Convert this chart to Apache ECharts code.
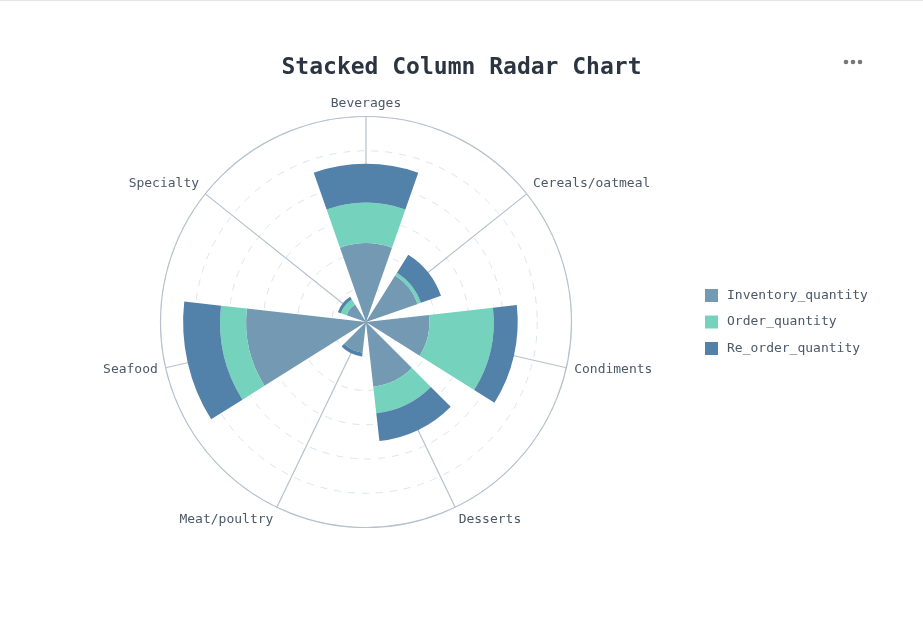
<!DOCTYPE html>
<html>
<head>
<meta charset="utf-8">
<script src="https://cdn.jsdelivr.net/npm/echarts@6/dist/echarts.min.js"></script>
<style>
html,body{margin:0;padding:0;background:#fff;}
#main{width:923px;height:623px;border-top:1px solid #e6e6e6;box-sizing:border-box;}
</style>
</head>
<body>
<div id="main"></div>
<script>
const categories = ['Beverages', 'Cereals/oatmeal', 'Condiments', 'Desserts', 'Meat/poultry', 'Seafood', 'Specialty'];
const inventoryQuantity = [23, 16, 18.5, 19, 9, 35, 6];
const orderQuantity = [11.8, 1, 18.8, 7.8, 0, 7.6, 1.8];
const reorderQuantity = [11.4, 6.2, 7, 8.2, 1.1, 10.8, 0.9];
const seriesNames = ['Inventory_quantity', 'Order_quantity', 'Re_order_quantity'];
const colors = ['#7399b3', '#74d2bd', '#5281a9'];

const chart = echarts.init(document.getElementById('main'));
const font = 'DejaVu Sans Mono, Liberation Mono, monospace';
const dataSets = [inventoryQuantity, orderQuantity, reorderQuantity];

chart.setOption({
  color: colors,
  title: {
    text: 'Stacked Column Radar Chart',
    left: 'center',
    top: 51,
    textStyle: { fontFamily: font, fontSize: 23, fontWeight: 'bold', color: '#2b3441' }
  },
  legend: {
    orient: 'vertical',
    left: 700,
    top: 283,
    itemWidth: 13,
    itemHeight: 13,
    itemGap: 13.5,
    icon: 'rect',
    textStyle: { fontFamily: font, fontSize: 13, color: '#4b5869', padding: [0, 0, 0, 4] },
    data: seriesNames
  },
  polar: {
    center: [366, 321],
    radius: 205.5
  },
  angleAxis: {
    type: 'category',
    data: categories,
    startAngle: 90 + 180 / 7,
    clockwise: true,
    axisLine: { show: true, lineStyle: { color: '#b6c1cd', width: 1.2 } },
    axisTick: { show: false, alignWithLabel: true },
    splitLine: { show: true, lineStyle: { color: '#b6c1cd', width: 1.2 } },
    axisLabel: { fontFamily: font, fontSize: 13, lineHeight: 10, color: '#4b5869', margin: 8 }
  },
  radiusAxis: {
    type: 'value',
    min: 0,
    max: 60,
    interval: 10,
    axisLine: { show: false },
    axisTick: { show: false },
    axisLabel: { show: false },
    splitLine: { show: true, lineStyle: { color: '#dce4ee', type: [7, 7], width: 1 } }
  },
  series: seriesNames.map((name, i) => ({
    name: name,
    type: 'bar',
    coordinateSystem: 'polar',
    stack: 'total',
    barCategoryGap: '25%',
    data: dataSets[i],
    itemStyle: { color: colors[i] }
  })),
  graphic: [
    { type: 'circle', shape: { cx: 846, cy: 61, r: 2.3 }, style: { fill: '#777' } },
    { type: 'circle', shape: { cx: 853, cy: 61, r: 2.3 }, style: { fill: '#777' } },
    { type: 'circle', shape: { cx: 860, cy: 61, r: 2.3 }, style: { fill: '#777' } }
  ]
});
</script>
</body>
</html>
